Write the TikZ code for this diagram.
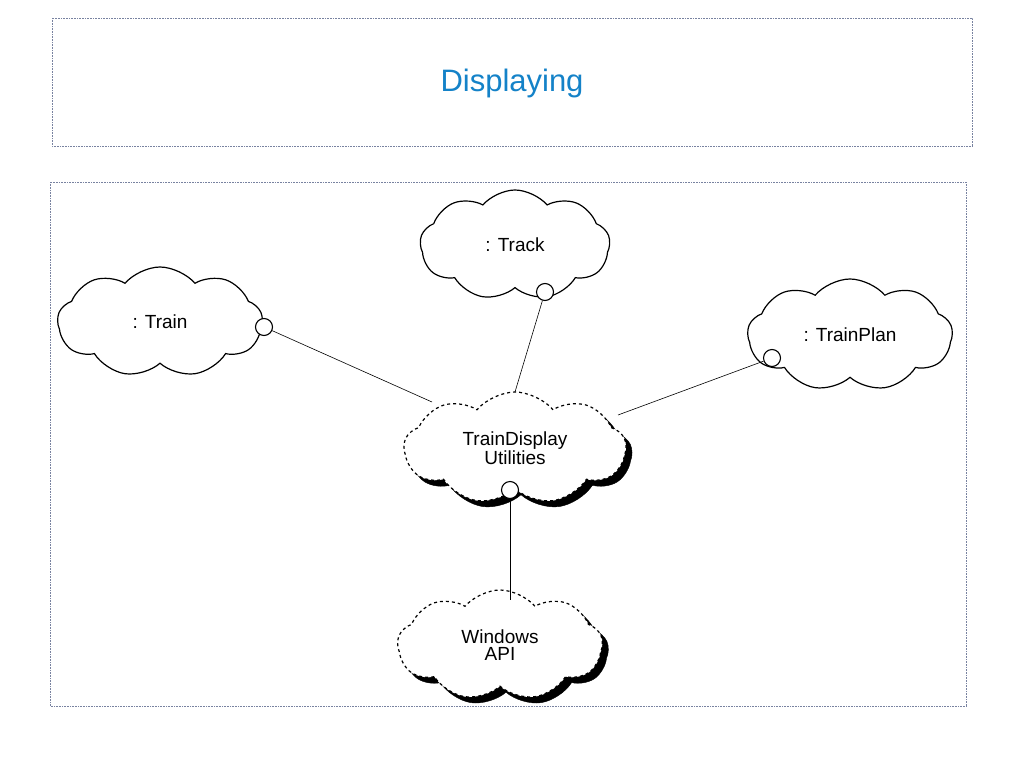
\documentclass[tikz,border=0pt]{standalone}
\usepackage{fontspec}
\setmainfont{Liberation Sans}
\usetikzlibrary{shapes.symbols}
\definecolor{titleblue}{RGB}{20,130,200}
\definecolor{frame}{RGB}{120,130,160}
\begin{document}
\begin{tikzpicture}[x=1pt,y=-1pt,
  cl/.style={cloud, cloud puffs=9, cloud puff arc=100, aspect=1.7, draw=black, line width=1.2pt, fill=white, font=\fontsize{19}{19}\selectfont, align=center, inner sep=0pt},
  dcl/.style={cl, dashed},
  shad/.style={cloud, cloud puffs=9, cloud puff arc=100, aspect=1.7, fill=black, draw=black},
  lol/.style={circle, draw=black, line width=1.1pt, fill=white, minimum size=17pt, inner sep=0pt},
  con/.style={draw=black, line width=0.6pt},
  box/.style={draw=frame, densely dotted, line width=0.6pt}]
\useasboundingbox (0,0) rectangle (1024,768);
\draw[box] (52,18) rectangle (972,146);
\node[text=titleblue, font=\fontsize{31}{31}\selectfont] (title) at (512,83) {Displaying};
\draw[box] (50,182) rectangle (966,706);
% clouds
\node[cl, minimum width=205pt, minimum height=110pt] (train) at (160,322) {: Train};
\node[cl, minimum width=190pt, minimum height=110pt] (track) at (515,245) {: Track};
\node[cl, minimum width=205pt, minimum height=112pt] (plan) at (850,335) {: TrainPlan};
\node[shad, minimum width=222pt, minimum height=112pt] (tdush) at (521,454) {};
\node[dcl, minimum width=222pt, minimum height=112pt, font=\fontsize{19}{17}\selectfont] (tdu) at (515,448) {TrainDisplay\\Utilities};
\node[shad, minimum width=205pt, minimum height=110pt] (winsh) at (506,651) {};
\node[dcl, minimum width=205pt, minimum height=110pt, font=\fontsize{19}{17}\selectfont] (win) at (500,645) {Windows\\API};
% lollipops
\coordinate (a1) at (432,402);
\coordinate (a2) at (515,392);
\coordinate (a3) at (618,415);
\coordinate (a4) at (510,600);
\node[lol] (l1) at (264,327) {};
\node[lol] (l2) at (545,292) {};
\node[lol] (l3) at (772,358) {};
\node[lol] (l4) at (510,490) {};
\draw[con] (l1) -- (a1);
\draw[con] (l2) -- (a2);
\draw[con] (l3) -- (a3);
\draw[con] (l4) -- (a4);
\end{tikzpicture}
\end{document}
